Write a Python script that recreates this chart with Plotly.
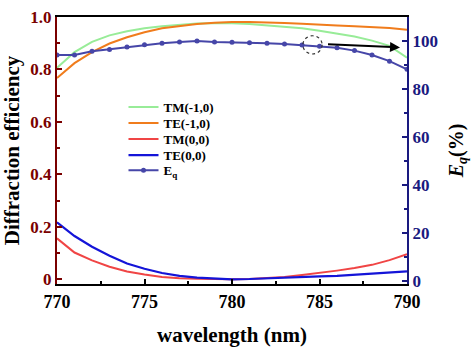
import plotly.graph_objects as go

wavelength = list(range(770, 791))
tm_m1 = [0.806, 0.866, 0.905, 0.930, 0.946, 0.957, 0.965, 0.971, 0.975, 0.976, 0.976,
         0.973, 0.968, 0.963, 0.957, 0.948, 0.938, 0.926, 0.910, 0.890, 0.845]
te_m1 = [0.767, 0.824, 0.866, 0.899, 0.923, 0.942, 0.957, 0.966, 0.973, 0.978, 0.981,
         0.981, 0.980, 0.977, 0.974, 0.972, 0.968, 0.965, 0.961, 0.958, 0.951]
tm_00 = [0.156, 0.102, 0.072, 0.048, 0.030, 0.018, 0.009, 0.004, 0.002, 0.000, 0.000,
         0.001, 0.004, 0.009, 0.016, 0.024, 0.033, 0.043, 0.055, 0.073, 0.096]
te_00 = [0.217, 0.165, 0.124, 0.090, 0.060, 0.040, 0.024, 0.013, 0.006, 0.002, 0.000,
         0.001, 0.004, 0.006, 0.008, 0.011, 0.013, 0.017, 0.020, 0.024, 0.030]
eq = [94.2, 94.2, 95.7, 96.5, 97.5, 98.4, 99.1, 99.6, 100.0, 99.6, 99.5,
      99.3, 99.1, 98.8, 98.3, 97.8, 97.2, 96.0, 94.2, 91.6, 88.2]

x_ticks = [770, 775, 780, 785, 790]
left_ticks = [0, 0.2, 0.4, 0.6, 0.8, 1.0]
left_labels = ["0", "0.2", "0.4", "0.6", "0.8", "1.0"]
right_ticks = [0, 20, 40, 60, 80, 100]

FONT = "Liberation Serif"
MAROON = "#7a0000"
NAVY = "#1a1a80"

fig = go.Figure()
fig.add_trace(go.Scatter(x=wavelength, y=tm_m1, mode="lines", name="<b>TM(-1,0)</b>",
                         line=dict(color="#98ec98", width=2), legend="legend"))
fig.add_trace(go.Scatter(x=wavelength, y=te_m1, mode="lines", name="<b>TE(-1,0)</b>",
                         line=dict(color="#f07c1c", width=2), legend="legend2"))
fig.add_trace(go.Scatter(x=wavelength, y=tm_00, mode="lines", name="<b>TM(0,0)</b>",
                         line=dict(color="#f04545", width=2), legend="legend3"))
fig.add_trace(go.Scatter(x=wavelength, y=te_00, mode="lines", name="<b>TE(0,0)</b>",
                         line=dict(color="#1414d8", width=2.2), legend="legend4"))
fig.add_trace(go.Scatter(x=wavelength, y=eq, mode="lines+markers", name="<b>E<sub>q</sub></b>",
                         yaxis="y2", line=dict(color="#4646a8", width=2),
                         marker=dict(size=5, color="#4646a8"), legend="legend5"))

row_px = [103, 120, 137, 154, 171]
def leg(ypx):
    return dict(x=0.19, y=(290 - ypx) / 282, xanchor="left", yanchor="middle",
                bgcolor="rgba(0,0,0,0)", font=dict(size=13, family=FONT),
                itemwidth=30)

fig.update_layout(
    width=474, height=351,
    margin=dict(l=57, r=67, t=8, b=61),
    plot_bgcolor="white", paper_bgcolor="white",
    font=dict(family=FONT, size=17, color="black"),
    showlegend=True,
    legend=leg(row_px[0]), legend2=leg(row_px[1]), legend3=leg(row_px[2]),
    legend4=leg(row_px[3]), legend5=leg(row_px[4] - 1),
    xaxis=dict(range=[770, 790], tickvals=x_ticks,
               ticktext=["<b>%d</b>" % t for t in x_ticks],
               ticks="inside", ticklen=5, tickwidth=1.5, tickcolor="black",
               showline=True, linecolor="black", linewidth=2, mirror=True,
               showgrid=False, zeroline=False,
               minor=dict(dtick=2.5, ticks="inside", ticklen=3, tickcolor="black"),
               tickfont=dict(size=18, family=FONT, color="black"),
               title=dict(text="<b>wavelength (nm)</b>", font=dict(size=21, family=FONT),
                          standoff=17)),
    yaxis=dict(range=[-0.018, 1.0], tickvals=left_ticks,
               ticktext=["<b>%s</b>" % t for t in left_labels],
               ticks="inside", ticklen=5, tickwidth=1.5, tickcolor=MAROON,
               showline=True, linecolor=MAROON, linewidth=2,
               showgrid=False, zeroline=False,
               minor=dict(dtick=0.1, ticks="inside", ticklen=3, tickcolor=MAROON),
               tickfont=dict(size=17, family=FONT, color=MAROON),
               title=dict(text="<b>Diffraction efficiency</b>",
                          font=dict(size=21, family=FONT, color="black"), standoff=5)),
    yaxis2=dict(range=[-1.2, 110], overlaying="y", side="right", tickvals=right_ticks,
                ticktext=["<b>%d</b>" % t for t in right_ticks],
                ticks="inside", ticklen=5, tickwidth=1.5, tickcolor=NAVY,
                showline=True, linecolor=NAVY, linewidth=2,
                showgrid=False, zeroline=False,
                minor=dict(dtick=10, ticks="inside", ticklen=3, tickcolor=NAVY),
                tickfont=dict(size=17, family=FONT, color=NAVY),
                title=dict(text="<b><i>E<sub>q</sub></i>(%)</b>",
                           font=dict(size=20, family=FONT, color="black"), standoff=12)),
)

fig.add_shape(type="circle", xref="x", yref="y2",
              x0=784.05, x1=785.15, y0=94.6, y1=102.2,
              line=dict(color="#333333", width=1.2, dash="dot"))
fig.add_annotation(x=789.6, y=97.3, xref="x", yref="y2",
                   ax=785.4, ay=98.7, axref="x", ayref="y2",
                   showarrow=True, arrowhead=2, arrowsize=1, arrowwidth=2,
                   arrowcolor="black", text="")

fig.write_html("out.html")
